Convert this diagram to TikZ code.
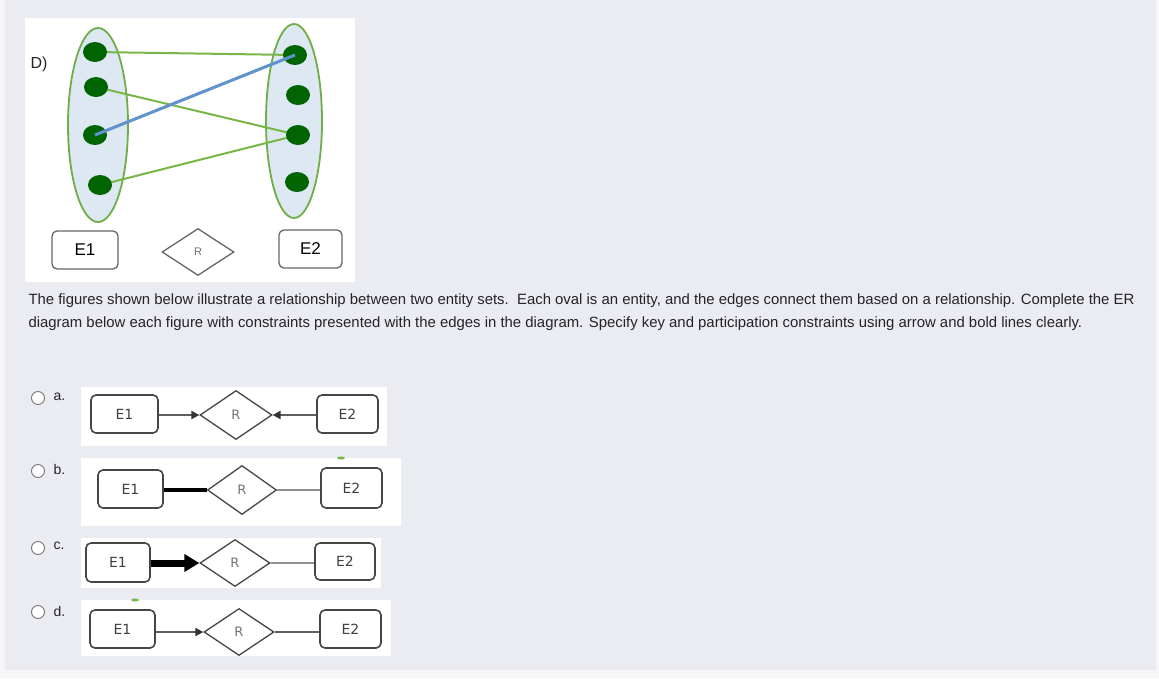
\documentclass[tikz,border=0pt]{standalone}
\usepackage{fontspec}
\setmainfont{Liberation Sans}
\newfontfamily\boxfont{DejaVu Sans}
\usetikzlibrary{shapes.geometric,arrows.meta}
\definecolor{pageColor}{RGB}{246,246,249}
\definecolor{panelColor}{RGB}{235,236,242}
\definecolor{ovalFill}{RGB}{221,232,243}
\definecolor{ovalLine}{RGB}{112,173,71}
\definecolor{dotColor}{RGB}{0,100,0}
\definecolor{linkColor}{RGB}{120,182,72}
\definecolor{keyColor}{RGB}{96,146,206}
\definecolor{boxLine}{RGB}{70,70,70}
\definecolor{edgeColor}{RGB}{95,95,95}
\definecolor{textColor}{RGB}{35,35,40}
\tikzset{
  entity/.style={draw=boxLine, rounded corners=5pt, line width=1.6pt, minimum height=38pt,
    inner sep=0pt, font=\boxfont\fontsize{14}{14}\selectfont, text=black!75},
  relation/.style={draw=boxLine, shape=diamond, line width=1.3pt, minimum width=71pt,
    minimum height=48pt, inner sep=0pt, font=\boxfont\fontsize{13}{13}\selectfont, text=black!55},
  radio/.style={circle, draw=black!55, fill=white, minimum size=13pt, inner sep=0pt, line width=0.9pt},
  optlabel/.style={anchor=west, font=\fontsize{14}{14}\selectfont, text=textColor},
  edge/.style={draw=edgeColor, line width=2pt},
  keytip/.style={-{Triangle[length=8pt,width=8pt,color=black!80]}},
  dot/.style={ellipse, fill=dotColor, minimum width=24pt, minimum height=20pt, inner sep=0pt},
}
\begin{document}
\begin{tikzpicture}[x=1pt,y=-1pt]
  % page and white panels
  \fill[pageColor] (0,0) rectangle (1159,678);
  \fill[panelColor] (5,0) rectangle (1156,670);
  \fill[white] (25,18) rectangle (355,282);
  \fill[white] (81,387) rectangle (387,446);
  \fill[white] (81,458) rectangle (401,526);
  \fill[white] (81,538) rectangle (381,588);
  \fill[white] (81,600) rectangle (391,656);

  % top figure: the two entity sets
  \node[anchor=west, font=\fontsize{16}{16}\selectfont, text=textColor] (dlabel) at (27,64) {D)};
  \draw[ovalLine, fill=ovalFill, line width=1.8pt] (98,125) ellipse [x radius=30, y radius=97];
  \draw[ovalLine, fill=ovalFill, line width=1.8pt] (294,121) ellipse [x radius=28, y radius=97];
  \coordinate (l1) at (95,52);
  \coordinate (l2) at (96,87);
  \coordinate (l3) at (95,135);
  \coordinate (l4) at (100,185);
  \coordinate (r1) at (295,55);
  \coordinate (r2) at (298,95);
  \coordinate (r3) at (298,135);
  \coordinate (r4) at (297,182);
  \draw[linkColor, line width=2pt] (l1) -- (r1);
  \draw[linkColor, line width=2pt] (l2) -- (r3);
  \draw[linkColor, line width=2pt] (l4) -- (r3);
  \foreach \p in {l1,l2,l3,l4,r1,r2,r3,r4}
    \node[dot] at (\p) {};
  \draw[keyColor, line width=3pt] (l3) -- (r1);
  \node[entity, draw=black!60, line width=1.3pt, minimum width=66pt, font=\fontsize{17}{17}\selectfont, text=black] (topE1) at (85,250) {E1};
  \node[relation, draw=black!60, minimum width=72pt, minimum height=47pt, font=\fontsize{11}{11}\selectfont] (topR) at (198,252) {R};
  \node[entity, draw=black!60, line width=1.3pt, minimum width=63pt, font=\fontsize{17}{17}\selectfont, text=black] (topE2) at (310.5,249) {E2};

  % question text
  \node[anchor=base west, font=\fontsize{14.9}{15}\selectfont, text=textColor] (line1) at (25,304)
    {The figures shown below illustrate a relationship between two entity sets.\ \ Each oval is an entity, and the edges connect them based on a relationship. Complete the ER};
  \node[anchor=base west, font=\fontsize{14.9}{15}\selectfont, text=textColor] (line2) at (25,327)
    {diagram below each figure with constraints presented with the edges in the diagram. Specify key and participation constraints using arrow and bold lines clearly.};

  % option a
  \node[radio] (radA) at (38,398) {};
  \node[optlabel] (labA) at (50,397) {a.};
  \node[entity, minimum width=67pt] (e1a) at (124.5,414) {E1};
  \node[relation, minimum width=72pt, minimum height=49pt] (ra) at (236,415) {R};
  \node[entity, minimum width=61pt] (e2a) at (347.5,414) {E2};
  \draw[edge, keytip] (e1a.east |- ra.west) -- (ra.west);
  \draw[edge, keytip] (e2a.west |- ra.east) -- (ra.east);

  % option b
  \node[radio] (radB) at (38,471) {};
  \node[optlabel] (labB) at (50,469) {b.};
  \node[entity, minimum width=65pt] (e1b) at (130.5,489) {E1};
  \node[relation, minimum width=69pt, minimum height=49pt] (rb) at (242,490) {R};
  \node[entity, minimum width=61pt, minimum height=40pt] (e2b) at (351.5,488) {E2};
  \draw[black, line width=4.5pt] (e1b.east |- rb.west) -- (rb.west);
  \draw[edgeColor!70, line width=2pt] (rb.east) -- (e2b.west |- rb.east);
  \fill[linkColor] (341,458) ellipse [x radius=4, y radius=1.5];

  % option c
  \node[radio] (radC) at (38,548) {};
  \node[optlabel] (labC) at (50,546) {c.};
  \node[entity, minimum width=64pt, minimum height=39pt] (e1c) at (118,562.5) {E1};
  \node[relation, minimum width=70pt, minimum height=47pt] (rc) at (235,563) {R};
  \node[entity, minimum width=60pt, minimum height=37pt] (e2c) at (345,561.5) {E2};
  \draw[black, line width=7pt, -{Triangle[length=15pt,width=17pt]}] (e1c.east |- rc.west) -- (rc.west);
  \draw[edgeColor!70, line width=2pt] (rc.east) -- (e2c.west |- rc.east);

  % option d
  \node[radio] (radD) at (38,612) {};
  \node[optlabel] (labD) at (50,611) {d.};
  \node[entity, minimum width=65pt] (e1d) at (122.5,629) {E1};
  \node[relation, minimum width=70pt, minimum height=47pt] (rd) at (239,632) {R};
  \node[entity, minimum width=61pt] (e2d) at (350.5,629) {E2};
  \draw[edge, keytip] (e1d.east |- rd.west) -- (rd.west);
  \draw[edge] (rd.east) -- (e2d.west |- rd.east);
  \fill[linkColor] (135,600) ellipse [x radius=4, y radius=1.5];
\end{tikzpicture}
\end{document}
